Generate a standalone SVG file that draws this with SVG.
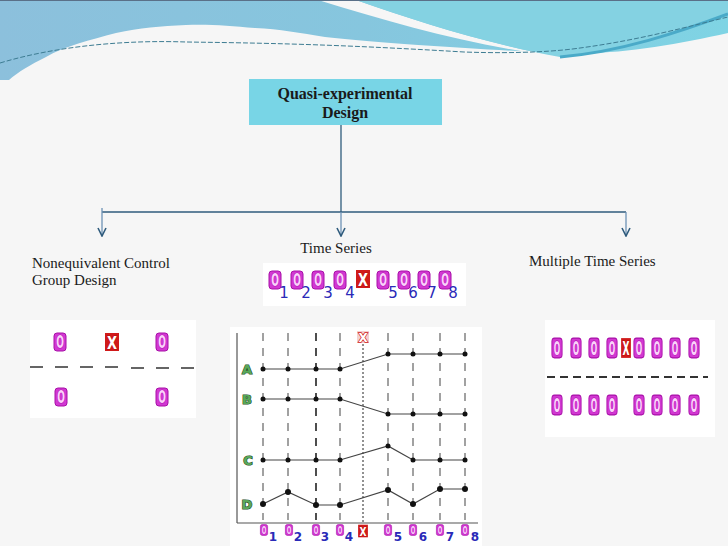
<svg xmlns="http://www.w3.org/2000/svg" xmlns:xlink="http://www.w3.org/1999/xlink" width="728" height="546" viewBox="0 0 728 546">
<defs>
<style>
.lbl{font-family:"Liberation Serif","DejaVu Serif",serif;font-size:15px;fill:#1a1a1a}
.ttl{font-family:"Liberation Serif","DejaVu Serif",serif;font-size:16px;font-weight:bold;fill:#1a1a1a;text-anchor:middle}
.obg{fill:#d238d2;stroke:#a810a8;stroke-width:1}
.oi{font-family:"DejaVu Sans",sans-serif;font-weight:bold;font-size:12px;fill:#fbd2fb;stroke:#b418b4;stroke-width:0.8;paint-order:stroke;text-anchor:middle}
.xi{font-family:"DejaVu Sans",sans-serif;font-weight:bold;font-size:13px;fill:#ffffff;stroke:#c01010;stroke-width:1;paint-order:stroke;text-anchor:middle}
.sub{font-family:"DejaVu Sans",sans-serif;font-size:15px;fill:#2a2ab8;text-anchor:middle}
.subs{font-family:"DejaVu Sans",sans-serif;font-size:12px;font-weight:bold;fill:#2a2ab8;text-anchor:middle}
.grp{font-family:"DejaVu Sans",sans-serif;font-weight:bold;font-size:13px;fill:#5aa85a;stroke:#1f4f1f;stroke-width:1.2;paint-order:stroke;text-anchor:middle}
.conn{stroke:#2f5b7c;stroke-width:1.3;fill:none}
.drop{stroke:#6d92b5;stroke-width:1.3;fill:none}
.dash{stroke:#8a8a8a;stroke-width:1.6;stroke-dasharray:8 7}
.dashd{stroke:#222;stroke-width:1.6;stroke-dasharray:8 7}
.ser{stroke:#444;stroke-width:1.2;fill:none}
.pt{fill:#111}
.ndash{stroke:#333;stroke-width:1.6;stroke-dasharray:13 12}
.panel{fill:#ffffff}
</style>
<linearGradient id="gL" x1="0" y1="0" x2="1" y2="0">
<stop offset="0" stop-color="#8cc0dc"/>
<stop offset="0.5" stop-color="#86c6de"/>
<stop offset="1" stop-color="#7fd4e4"/>
</linearGradient>
<marker id="chev" viewBox="0 0 10 10" refX="9" refY="5" markerWidth="10" markerHeight="10" markerUnits="userSpaceOnUse" orient="auto">
<path d="M1,1 L9,5 L1,9" fill="none" stroke="#2f5b7c" stroke-width="1.6"/>
</marker>
<g id="oIcon"><rect class="obg" x="-6" y="-9" width="12" height="18" rx="3"/><text class="oi" x="0" y="4.3" transform="scale(0.75,1.45)">O</text></g>
<g id="xIcon"><rect x="-7" y="-9" width="14" height="18" fill="#d01a1a"/><text class="xi" x="0" y="5" transform="scale(1,1.35)">X</text></g>
<g id="xSmall"><rect x="-6" y="-6" width="12" height="12" fill="#f4d0d0"/><text x="0" y="4.5" font-family="DejaVu Sans,sans-serif" font-weight="bold" font-size="12" fill="#ffffff" stroke="#d01a1a" stroke-width="1.4" paint-order="stroke" text-anchor="middle">X</text></g>
</defs>

<rect x="0" y="0" width="728" height="546" fill="#f6f6f6"/>
<g id="decor">
<path d="M0,0 L728,0 L728,33 C680,44 620,54 580,53 C540,53 480,49 418,45 C380,42 350,40 325,37 C300,33 280,29 255,28 C230,26 210,24 186,25 C160,26 140,28 116,33 C90,40 65,46 46,57 C30,65 18,72 9,80 L0,80 Z" fill="url(#gL)"/>
<path d="M318,0 L356,0 C420,22 480,42 560,57 C470,45 400,25 318,0 Z" fill="#f6f6f6"/>
<path d="M356,0 L728,0 L728,12 C680,30 620,54 560,57 C480,42 420,22 356,0 Z" fill="#84d2e2"/>
<path d="M560,57 C620,52 680,32 728,14" fill="none" stroke="#4aaac8" stroke-width="3"/>
<path d="M0,63 C60,45 130,40 186,42 C260,43 330,44 464,52 C520,54 560,51 580,48 C640,40 690,26 728,17" fill="none" stroke="#3d7c92" stroke-width="1" stroke-dasharray="5 2"/>
<line x1="0" y1="0.5" x2="728" y2="0.5" stroke="#5a7088" stroke-width="1"/>
</g>

<g id="connectors">
<line class="conn" x1="341" y1="125" x2="341" y2="212"/>
<line class="conn" x1="102" y1="212" x2="626" y2="212"/>
<line class="drop" x1="102" y1="208" x2="102" y2="236" marker-end="url(#chev)"/>
<line class="drop" x1="341" y1="212" x2="341" y2="236" marker-end="url(#chev)"/>
<line class="drop" x1="626" y1="212" x2="626" y2="236" marker-end="url(#chev)"/>
</g>

<g id="root">
<rect x="249" y="79" width="193" height="46" fill="#78d5e6"/>
<text class="ttl" x="345" y="99">Quasi-experimental</text>
<text class="ttl" x="345" y="118">Design</text>
</g>

<g id="nonequivalent">
<text class="lbl" x="32" y="268">Nonequivalent Control</text>
<text class="lbl" x="32" y="285">Group Design</text>
<rect class="panel" x="30" y="320" width="166" height="98"/>
<use xlink:href="#oIcon" transform="translate(60,342)"/>
<use xlink:href="#xIcon" transform="translate(112,342)"/>
<use xlink:href="#oIcon" transform="translate(162,342)"/>
<line class="ndash" x1="30" y1="367" x2="118" y2="367"/>
<line class="ndash" x1="131" y1="368" x2="195" y2="368"/>
<use xlink:href="#oIcon" transform="translate(61,397)"/>
<use xlink:href="#oIcon" transform="translate(162,397)"/>
</g>

<g id="timeseries">
<text class="lbl" x="336" y="253" text-anchor="middle">Time Series</text>
<rect class="panel" x="263" y="263" width="203" height="43"/>
<use xlink:href="#oIcon" transform="translate(275,280)"/><text class="sub" x="284" y="298">1</text>
<use xlink:href="#oIcon" transform="translate(297,280)"/><text class="sub" x="306" y="298">2</text>
<use xlink:href="#oIcon" transform="translate(318,280)"/><text class="sub" x="328" y="298">3</text>
<use xlink:href="#oIcon" transform="translate(340,280)"/><text class="sub" x="350" y="298">4</text>
<use xlink:href="#xIcon" transform="translate(363,279)"/>
<use xlink:href="#oIcon" transform="translate(383,280)"/><text class="sub" x="393" y="298">5</text>
<use xlink:href="#oIcon" transform="translate(404,280)"/><text class="sub" x="413" y="298">6</text>
<use xlink:href="#oIcon" transform="translate(424,280)"/><text class="sub" x="432" y="298">7</text>
<use xlink:href="#oIcon" transform="translate(445,280)"/><text class="sub" x="453" y="298">8</text>
</g>

<g id="chart">
<rect class="panel" x="230" y="327" width="252" height="219"/>
<line x1="237" y1="333" x2="237" y2="523" stroke="#555" stroke-width="1.2"/>
<line x1="237" y1="523" x2="478" y2="523" stroke="#555" stroke-width="1.2"/>
<line class="dash" x1="263" y1="333" x2="263" y2="520"/>
<line class="dash" x1="288" y1="333" x2="288" y2="520"/>
<line class="dashd" x1="316" y1="333" x2="316" y2="520"/>
<line class="dash" x1="340" y1="333" x2="340" y2="520"/>
<line class="dash" x1="388" y1="333" x2="388" y2="520"/>
<line class="dash" x1="413" y1="333" x2="413" y2="520"/>
<line class="dash" x1="440" y1="333" x2="440" y2="520"/>
<line class="dash" x1="465" y1="333" x2="465" y2="520"/>
<line x1="363" y1="344" x2="363" y2="522" stroke="#222" stroke-width="1" stroke-dasharray="2 2"/>
<use xlink:href="#xSmall" transform="translate(363,337)"/>
<polyline class="ser" points="263,369 288,369 316,369 340,369 388,354 413,354 440,354 465,354"/>
<polyline class="ser" points="263,399 288,399 316,399 340,399 388,414 413,414 440,414 465,414"/>
<polyline class="ser" points="263,460 288,460 316,460 340,460 388,446 413,460 440,460 465,460"/>
<polyline class="ser" points="263,504 288,492 316,505 340,505 388,490 413,504 440,489 465,489"/>
<g class="pt">
<circle cx="263" cy="369" r="2.5"/><circle cx="288" cy="369" r="2.5"/><circle cx="316" cy="369" r="2.5"/><circle cx="340" cy="369" r="2.5"/><circle cx="388" cy="354" r="2.5"/><circle cx="413" cy="354" r="2.5"/><circle cx="440" cy="354" r="2.5"/><circle cx="465" cy="354" r="2.5"/>
<circle cx="263" cy="399" r="2.5"/><circle cx="288" cy="399" r="2.5"/><circle cx="316" cy="399" r="2.5"/><circle cx="340" cy="399" r="2.5"/><circle cx="388" cy="414" r="2.5"/><circle cx="413" cy="414" r="2.5"/><circle cx="440" cy="414" r="2.5"/><circle cx="465" cy="414" r="2.5"/>
<circle cx="263" cy="460" r="2.5"/><circle cx="288" cy="460" r="2.5"/><circle cx="316" cy="460" r="2.5"/><circle cx="340" cy="460" r="2.5"/><circle cx="388" cy="446" r="2.5"/><circle cx="413" cy="460" r="2.5"/><circle cx="440" cy="460" r="2.5"/><circle cx="465" cy="460" r="2.5"/>
<circle cx="263" cy="504" r="3"/><circle cx="288" cy="492" r="3"/><circle cx="316" cy="505" r="3"/><circle cx="340" cy="505" r="3"/><circle cx="388" cy="490" r="3"/><circle cx="413" cy="504" r="3"/><circle cx="440" cy="489" r="3"/><circle cx="465" cy="489" r="3"/>
</g>
<text class="grp" x="247" y="374">A</text>
<text class="grp" x="247" y="404">B</text>
<text class="grp" x="248" y="465">C</text>
<text class="grp" x="247" y="509">D</text>
<use xlink:href="#oIcon" transform="translate(264,530) scale(0.6)"/><text class="subs" x="273" y="541">1</text>
<use xlink:href="#oIcon" transform="translate(289,530) scale(0.6)"/><text class="subs" x="298" y="541">2</text>
<use xlink:href="#oIcon" transform="translate(316,530) scale(0.6)"/><text class="subs" x="325" y="541">3</text>
<use xlink:href="#oIcon" transform="translate(340,530) scale(0.6)"/><text class="subs" x="349" y="541">4</text>
<use xlink:href="#xIcon" transform="translate(363,531) scale(0.7)"/>
<use xlink:href="#oIcon" transform="translate(388,530) scale(0.6)"/><text class="subs" x="398" y="541">5</text>
<use xlink:href="#oIcon" transform="translate(413,530) scale(0.6)"/><text class="subs" x="423" y="541">6</text>
<use xlink:href="#oIcon" transform="translate(440,530) scale(0.6)"/><text class="subs" x="450" y="541">7</text>
<use xlink:href="#oIcon" transform="translate(465,530) scale(0.6)"/><text class="subs" x="475" y="541">8</text>
</g>

<g id="multiple">
<text class="lbl" x="529" y="266">Multiple Time Series</text>
<rect class="panel" x="545" y="320" width="170" height="117"/>
<use xlink:href="#oIcon" transform="translate(557,348) scale(0.85,1.1)"/>
<use xlink:href="#oIcon" transform="translate(576,348) scale(0.85,1.1)"/>
<use xlink:href="#oIcon" transform="translate(594,348) scale(0.85,1.1)"/>
<use xlink:href="#oIcon" transform="translate(612,348) scale(0.85,1.1)"/>
<use xlink:href="#xIcon" transform="translate(626,348) scale(0.7,1.1)"/>
<use xlink:href="#oIcon" transform="translate(639,348) scale(0.85,1.1)"/>
<use xlink:href="#oIcon" transform="translate(657,348) scale(0.85,1.1)"/>
<use xlink:href="#oIcon" transform="translate(675,348) scale(0.85,1.1)"/>
<use xlink:href="#oIcon" transform="translate(694,348) scale(0.85,1.1)"/>
<line x1="547" y1="377" x2="708" y2="377" stroke="#333" stroke-width="1.8" stroke-dasharray="8 5"/>
<use xlink:href="#oIcon" transform="translate(557,405) scale(0.85,1.1)"/>
<use xlink:href="#oIcon" transform="translate(576,405) scale(0.85,1.1)"/>
<use xlink:href="#oIcon" transform="translate(594,405) scale(0.85,1.1)"/>
<use xlink:href="#oIcon" transform="translate(612,405) scale(0.85,1.1)"/>
<use xlink:href="#oIcon" transform="translate(639,405) scale(0.85,1.1)"/>
<use xlink:href="#oIcon" transform="translate(657,405) scale(0.85,1.1)"/>
<use xlink:href="#oIcon" transform="translate(675,405) scale(0.85,1.1)"/>
<use xlink:href="#oIcon" transform="translate(694,405) scale(0.85,1.1)"/>
</g>
</svg>
